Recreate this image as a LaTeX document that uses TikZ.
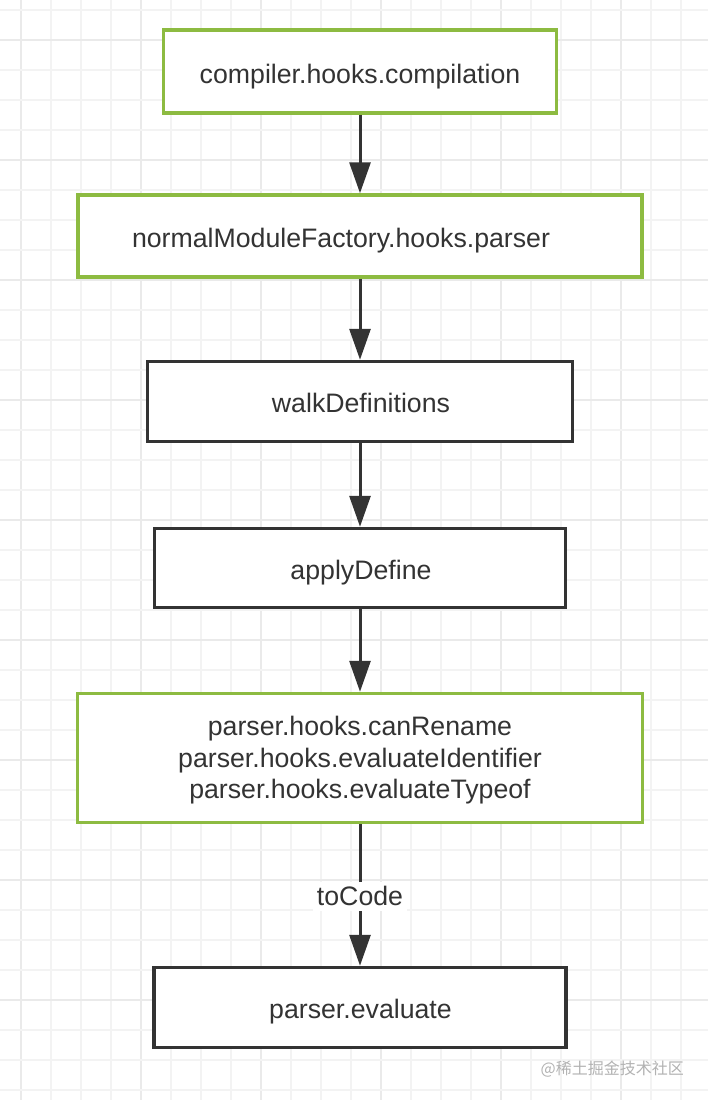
\documentclass[tikz,border=0pt]{standalone}
\usepackage{fontspec}
\setmainfont{Liberation Sans}
\newfontfamily\cjkfont{Noto Sans CJK SC}
\usetikzlibrary{arrows.meta}
\definecolor{boxgreen}{RGB}{141,187,65}
\definecolor{ink}{RGB}{51,51,51}
\definecolor{gridminor}{RGB}{243,243,243}
\definecolor{gridmajor}{RGB}{234,234,234}
\definecolor{wmark}{RGB}{178,178,178}
\begin{document}
\begin{tikzpicture}[x=1pt,y=-1pt,
  greenbox/.style={draw=boxgreen,line width=3.5pt,fill=white,rectangle,inner sep=0pt},
  blackbox/.style={draw=ink,line width=3.5pt,fill=white,rectangle,inner sep=0pt},
  boxtext/.style={anchor=base,text=ink,font=\fontsize{26.7}{31.5}\selectfont,inner sep=0pt},
  flow/.style={draw=ink,line width=3pt,-{Triangle[width=21pt,length=31pt]}},
  gridline/.style={draw=gridminor,line width=1.6pt},
  gridbold/.style={draw=gridmajor,line width=1.6pt}
]
\path[use as bounding box] (0,0) rectangle (708,1100);
\fill[white] (0,0) rectangle (708,1100);
% background grid
\foreach \k in {0,...,22}{
  \pgfmathtruncatemacro{\m}{mod(\k,4)}
  \ifnum\m=0
    \draw[gridbold] (21+30*\k,0) -- (21+30*\k,1100);
  \else
    \draw[gridline] (21+30*\k,0) -- (21+30*\k,1100);
  \fi
}
\foreach \k in {0,...,36}{
  \pgfmathtruncatemacro{\m}{mod(\k,4)}
  \ifnum\m=1
    \draw[gridbold] (0,10+30*\k) -- (708,10+30*\k);
  \else
    \draw[gridline] (0,10+30*\k) -- (708,10+30*\k);
  \fi
}
% boxes
\node[greenbox,minimum width=393pt,minimum height=83pt] (b1) at (360,71.5) {};
\node[greenbox,minimum width=564pt,minimum height=82pt] (b2) at (360,236) {};
\node[blackbox,minimum width=425pt,minimum height=80pt] (b3) at (360,401.5) {};
\node[blackbox,minimum width=411pt,minimum height=79pt] (b4) at (360,568) {};
\node[greenbox,minimum width=565pt,minimum height=129pt] (b5) at (360,758) {};
\node[blackbox,minimum width=412pt,minimum height=80pt] (b6) at (360,1007.5) {};
% texts
\node[boxtext] (t1) at (360,83) {compiler.hooks.compilation};
\node[boxtext] (t2) at (341,247) {normalModuleFactory.hooks.parser};
\node[boxtext] (t3) at (361,412) {walkDefinitions};
\node[boxtext] (t4) at (361,579) {applyDefine};
\node[boxtext] (t5a) at (360,735) {parser.hooks.canRename};
\node[boxtext] (t5b) at (360,767) {parser.hooks.evaluateIdentifier};
\node[boxtext] (t5c) at (360,798) {parser.hooks.evaluateTypeof};
\node[boxtext] (t6) at (360.5,1018) {parser.evaluate};
% connectors
\draw[flow] (b1) -- (b2);
\draw[flow] (b2) -- (b3);
\draw[flow] (b3) -- (b4);
\draw[flow] (b4) -- (b5);
\draw[flow] (b5) -- node[pos=0.51,fill=white,text=ink,inner xsep=4pt,inner ysep=5pt,font=\fontsize{26.7}{31.5}\selectfont] (lbl) {toCode} (b6);
% watermark
\node[anchor=east,text=wmark,font=\cjkfont\fontsize{16}{16}\selectfont,inner sep=0pt] (wm) at (684,1069) {@稀土掘金技术社区};
\end{tikzpicture}
\end{document}
